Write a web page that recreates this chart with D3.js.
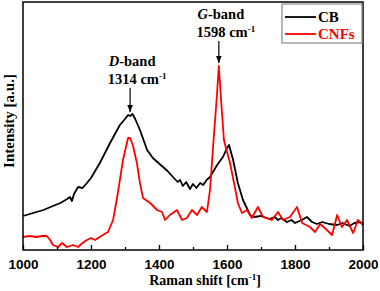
<!DOCTYPE html>
<html>
<head>
<meta charset="utf-8">
<script src="https://cdn.jsdelivr.net/npm/d3@7"></script>
<style>
  body { margin: 0; background: #fff; }
  svg { display: block; }
</style>
</head>
<body>
<script>
// Raman spectra, intensity in arbitrary units
const cbShift = [1000, 1030, 1060, 1088, 1110, 1130, 1138, 1144, 1150, 1162, 1175, 1188, 1200, 1226, 1256, 1285, 1300, 1309, 1315, 1322, 1330, 1344, 1365, 1382, 1395, 1412, 1425, 1441, 1455, 1462, 1470, 1480, 1491, 1500, 1510, 1521, 1530, 1540, 1550, 1571, 1588, 1600, 1606, 1618, 1632, 1647, 1668, 1680, 1700, 1726, 1740, 1750, 1760, 1776, 1790, 1800, 1820, 1835, 1850, 1865, 1880, 1900, 1924, 1940, 1960, 1975, 1991, 2000]
const cbInt = [34, 37, 40, 44, 47, 51, 53, 49, 56, 63, 62, 67, 72, 87, 107, 125, 131, 135, 134, 136, 131, 120, 100, 92, 88, 83, 79, 73, 68, 70, 64, 68, 61, 66, 62, 67, 65, 70, 73, 85, 93, 102, 105, 90, 67, 50, 35, 33, 34, 31, 33, 30, 32, 28, 30, 27, 30, 33, 28, 26, 28, 26, 25, 27, 24, 27, 28, 26]

const cnfShift = [1000, 1020, 1040, 1055, 1070, 1080, 1088, 1103, 1115, 1129, 1147, 1162, 1175, 1188, 1200, 1212, 1225, 1235, 1250, 1265, 1279, 1294, 1309, 1315, 1323, 1335, 1344, 1353, 1374, 1394, 1409, 1418, 1432, 1453, 1468, 1482, 1497, 1512, 1526, 1541, 1550, 1559, 1570, 1576, 1582, 1591, 1600, 1609, 1623, 1632, 1644, 1659, 1673, 1691, 1706, 1732, 1750, 1765, 1785, 1806, 1821, 1844, 1859, 1874, 1894, 1909, 1924, 1938, 1953, 1971, 1985, 2000]
const cnfInt = [13, 14, 13, 14, 14, 10, 5, 3, 7, 3, 5, 3, 7, 10, 12, 10, 13, 15, 18, 30, 57, 90, 112, 112, 105, 87, 67, 52, 47, 40, 38, 30, 35, 40, 30, 32, 40, 35, 43, 38, 60, 103, 153, 184, 153, 110, 98, 87, 63, 47, 37, 40, 32, 43, 33, 30, 38, 30, 33, 43, 27, 23, 18, 26, 20, 15, 35, 23, 30, 17, 30, 25]

const seriesNames = ['CB', 'CNFs']
const seriesColors = ['#000000', '#ff0000']
const xTicks = [1000, 1200, 1400, 1600, 1800, 2000]
const xMinor = [1100, 1300, 1500, 1700, 1900]

const width = 380, height = 291
const margin = { top: 2, right: 17, bottom: 41, left: 23 }

const svg = d3.select('body').append('svg')
    .attr('width', width)
    .attr('height', height)

const x = d3.scaleLinear()
    .domain([1000, 2000])
    .range([margin.left, width - margin.right])

const y = d3.scaleLinear()
    .domain([0, 248])
    .range([height - margin.bottom, margin.top])

const line = d3.line()
    .x(d => x(d[0]))
    .y(d => y(d[1]))

const series = [
  d3.zip(cbShift, cbInt),
  d3.zip(cnfShift, cnfInt)
]

// CB first, CNFs drawn over it
series.forEach((s, i) => {
  svg.append('path')
      .datum(s)
      .attr('fill', 'none')
      .attr('stroke', seriesColors[i])
      .attr('stroke-width', 1.8)
      .attr('stroke-linejoin', 'round')
      .attr('d', line)
})

// bottom axis, ticks pointing in
const bottom = height - margin.bottom
svg.append('g')
    .attr('transform', `translate(0,${bottom})`)
    .call(d3.axisBottom(x).tickValues(xTicks).tickSizeInner(-5).tickSizeOuter(0).tickPadding(9).tickFormat(d3.format('d')))
    .call(g => g.select('.domain').remove())
    .call(g => g.selectAll('.tick line').attr('stroke-width', 1.3))
    .call(g => g.selectAll('.tick text')
        .attr('font-family', 'Liberation Sans, Arial, sans-serif')
        .attr('font-weight', 'bold')
        .attr('font-size', 13.5)
        .attr('fill', '#000'))

svg.append('g')
    .attr('transform', `translate(0,${bottom})`)
    .call(d3.axisBottom(x).tickValues(xMinor).tickSizeInner(-3).tickSizeOuter(0).tickFormat(''))
    .call(g => g.select('.domain').remove())
    .call(g => g.selectAll('.tick line').attr('stroke-width', 1.3))

// frame
svg.append('rect')
    .attr('x', margin.left)
    .attr('y', margin.top)
    .attr('width', width - margin.left - margin.right)
    .attr('height', height - margin.top - margin.bottom)
    .attr('fill', 'none')
    .attr('stroke', '#000')
    .attr('stroke-width', 1.5)

const serif = 'Liberation Serif, Times New Roman, serif'

// axis titles
const xTitle = svg.append('text')
    .attr('x', (margin.left + width - margin.right) / 2 + 12)
    .attr('y', 285)
    .attr('text-anchor', 'middle')
    .attr('font-family', serif)
    .attr('font-weight', 'bold')
    .attr('font-size', 14)
xTitle.append('tspan').text('Raman shift [cm')
xTitle.append('tspan').attr('dy', -5).attr('font-size', 9).text('-1')
xTitle.append('tspan').attr('dy', 5).text(']')

svg.append('text')
    .attr('transform', 'translate(14,121) rotate(-90)')
    .attr('text-anchor', 'middle')
    .attr('font-family', serif)
    .attr('font-weight', 'bold')
    .attr('font-size', 15)
    .text('Intensity [a.u.]')

// peak annotations
svg.append('defs').append('marker')
    .attr('id', 'arrow')
    .attr('viewBox', '0 0 10 10')
    .attr('refX', 10).attr('refY', 5)
    .attr('markerWidth', 6).attr('markerHeight', 6)
    .attr('orient', 'auto')
  .append('path')
    .attr('d', 'M0,1L10,5L0,9Z')
    .attr('fill', '#000')

const notes = [
  { band: 'D', label: '1314', at: 1315, textY: 66, tip: 112 },
  { band: 'G', label: '1598', at: 1576, textY: 19, tip: 63 }
]

notes.forEach(n => {
  const t1 = svg.append('text')
      .attr('x', x(n.at) + 2)
      .attr('y', n.textY)
      .attr('text-anchor', 'middle')
      .attr('font-family', serif)
      .attr('font-weight', 'bold')
      .attr('font-size', 14.5)
  t1.append('tspan').attr('font-style', 'italic').text(n.band)
  t1.append('tspan').text('-band')

  const t2 = svg.append('text')
      .attr('x', x(n.at) + 7)
      .attr('y', n.textY + 18)
      .attr('text-anchor', 'middle')
      .attr('font-family', serif)
      .attr('font-weight', 'bold')
      .attr('font-size', 14.5)
  t2.append('tspan').text(n.label + ' cm')
  t2.append('tspan').attr('dy', -5).attr('font-size', 9).text('-1')

  svg.append('line')
      .attr('x1', x(n.at)).attr('x2', x(n.at))
      .attr('y1', n.textY + 22).attr('y2', n.tip)
      .attr('stroke', '#000')
      .attr('stroke-width', 1.2)
      .attr('marker-end', 'url(#arrow)')
})

// legend
const legend = svg.append('g')
legend.append('rect')
    .attr('x', 282).attr('y', 4)
    .attr('width', 80).attr('height', 39)
    .attr('fill', '#fff')
    .attr('stroke', '#888')
    .attr('stroke-width', 1.2)

seriesNames.forEach((name, i) => {
  const ly = 17 + i * 17
  legend.append('line')
      .attr('x1', 285).attr('x2', 316)
      .attr('y1', ly).attr('y2', ly)
      .attr('stroke', seriesColors[i])
      .attr('stroke-width', 1.8)
  legend.append('text')
      .attr('x', 318)
      .attr('y', ly + 5)
      .attr('font-family', serif)
      .attr('font-weight', 'bold')
      .attr('font-size', 15)
      .attr('fill', seriesColors[i])
      .text(name)
})
</script>
</body>
</html>
